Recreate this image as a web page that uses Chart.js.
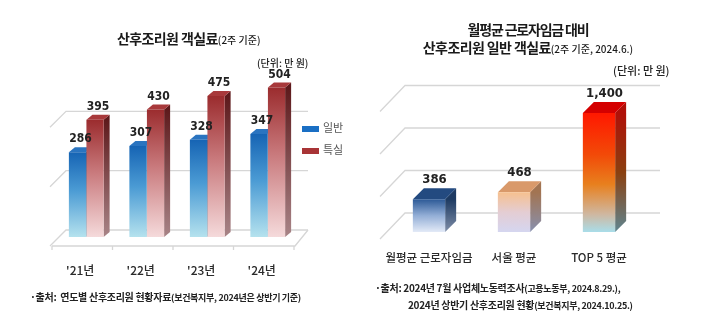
<!DOCTYPE html>
<html>
<head>
<meta charset="utf-8">
<script src="https://cdn.jsdelivr.net/npm/chart.js@4.4.1/dist/chart.umd.min.js"></script>
<style>
  body { margin: 0; background: #fff; width: 710px; height: 329px; overflow: hidden; position: relative;
         font-family: "Noto Sans CJK KR", "Noto Sans", sans-serif; color: #222; }
  .box { position: absolute; top: 0; width: 355px; height: 329px; }
  .t { position: absolute; white-space: nowrap; line-height: 1; }
  .title { font-size: 14px; font-weight: 700; color: #1a1a1a; letter-spacing: -0.6px; }
  .small { font-size: 10px; font-weight: 500; letter-spacing: 0; }
  .src { font-size: 10px; font-weight: 700; color: #222; letter-spacing: -0.3px; }
  .key { position: absolute; width: 17px; height: 6px; }
</style>
</head>
<body>
<div class="box" style="left:0"><canvas id="roomChart" width="355" height="329"></canvas></div>
<div class="box" style="left:355px"><canvas id="wageChart" width="355" height="329"></canvas></div>

<!-- left chart texts -->
<div class="t title" style="left:117px;top:31px">산후조리원 객실료<span class="small">(2주 기준)</span></div>
<div class="t small" style="left:257px;top:58px">(단위: 만 원)</div>
<div class="key" style="left:302px;top:126px;background:#1a6fc4"></div>
<div class="t" style="left:323px;top:122px;font-size:11px;color:#555">일반</div>
<div class="key" style="left:302px;top:148px;background:#a83436"></div>
<div class="t" style="left:323px;top:144px;font-size:11px;color:#555">특실</div>
<div class="t src" style="left:30px;top:292px">·출처:&nbsp; 연도별 산후조리원 현황자료<span style="font-size:9px">(보건복지부, 2024년은 상반기 기준)</span></div>

<!-- right chart texts -->
<div class="t title" style="left:355px;width:346px;text-align:center;top:22px;letter-spacing:-1.2px">월평균 근로자임금 대비</div>
<div class="t title" style="left:355px;width:346px;text-align:center;top:40px">산후조리원 일반 객실료<span class="small">(2주 기준, 2024.6.)</span></div>
<div class="t small" style="left:613px;top:65px;font-size:11px">(단위: 만 원)</div>
<div class="t src" style="left:375px;top:283px">·출처: 2024년 7월 사업체노동력조사<span style="font-size:9px">(고용노동부, 2024.8.29.),</span></div>
<div class="t src" style="left:408px;top:300px">2024년 상반기 산후조리원 현황<span style="font-size:9px">(보건복지부, 2024.10.25.)</span></div>

<script>
// left chart data
const years = ["'21년", "'22년", "'23년", "'24년"];
const generalRoom = [286, 307, 328, 347];
const specialRoom = [395, 430, 475, 504];
const roomGrid = [0, 200, 400];

// right chart data
const wageCats = ['월평균 근로자임금', '서울 평균', 'TOP 5 평균'];
const wageValues = [386, 468, 1400];
const wageGrid = [0, 500, 1000, 1500];

const numFont = "'Liberation Sans Narrow', 'DejaVu Sans Condensed', 'Liberation Sans', sans-serif";

// front face gradient for each bar, from its top down to the base
function frontFill(stopsFor) {
    return function (c) {
        const chart = c.chart;
        const stops = stopsFor(c.dataIndex);
        if (!chart.chartArea || c.type !== 'data') return stops[0][1];
        const y = chart.scales.y;
        const g = chart.ctx.createLinearGradient(0, y.getPixelForValue(c.raw), 0, y.getPixelForValue(0));
        stops.forEach(s => g.addColorStop(s[0], s[1]));
        return g;
    };
}

function vGrad(ctx, y0, y1, colors) {
    const g = ctx.createLinearGradient(0, y0, 0, y1);
    colors.forEach((col, i) => g.addColorStop(i / (colors.length - 1), col));
    return g;
}

// draws the fake 3D walls, bar sides/tops and the labels
const pseudo3d = {
    id: 'pseudo3d',
    beforeDatasetsDraw(chart, args, opts) {
        const ctx = chart.ctx;
        const area = chart.chartArea;
        const ys = chart.scales.y;
        const base = ys.getPixelForValue(0);
        ctx.save();
        ctx.strokeStyle = '#d6d6d6';
        ctx.lineWidth = 1.3;
        opts.grid.forEach(v => {
            const y = ys.getPixelForValue(v) - opts.wallY;
            ctx.beginPath();
            ctx.moveTo(area.left + opts.wallX - opts.diagX, y + opts.diagY);
            ctx.lineTo(area.left + opts.wallX, y);
            ctx.lineTo(area.right + opts.wallX, y);
            ctx.stroke();
        });
        if (opts.floor) {
            const fy = base + opts.floor;
            ctx.beginPath();
            ctx.moveTo(area.left - 4, fy);
            ctx.lineTo(area.right - 3, fy);
            ctx.lineTo(area.right + opts.wallX, base - opts.wallY);
            ctx.stroke();
            const xs = chart.scales.x;
            for (let i = 0; i <= chart.data.labels.length; i++) {
                const tx = xs.getPixelForValue(i - 0.5) - 4;
                ctx.beginPath();
                ctx.moveTo(tx, fy);
                ctx.lineTo(tx, fy + 4);
                ctx.stroke();
            }
        }
        // sides and tops, behind the front faces
        chart.data.datasets.forEach((ds, di) => {
            chart.getDatasetMeta(di).data.forEach((el, i) => {
                const p = el.getProps(['x', 'y', 'base', 'width'], true);
                const r = p.x + p.width / 2, l = p.x - p.width / 2;
                const dx = opts.dx, dy = opts.dy;
                const look = opts.faces(di, i);
                ctx.fillStyle = vGrad(ctx, p.y, p.base, look.side);
                ctx.beginPath();
                ctx.moveTo(r, p.y);
                ctx.lineTo(r + dx, p.y - dy);
                ctx.lineTo(r + dx, p.base - dy);
                ctx.lineTo(r, p.base);
                ctx.closePath();
                ctx.fill();
                ctx.fillStyle = look.top;
                ctx.beginPath();
                ctx.moveTo(l, p.y);
                ctx.lineTo(l + dx, p.y - dy);
                ctx.lineTo(r + dx, p.y - dy);
                ctx.lineTo(r, p.y);
                ctx.closePath();
                ctx.fill();
            });
        });
        ctx.restore();
    },
    afterDatasetsDraw(chart, args, opts) {
        const ctx = chart.ctx;
        ctx.save();
        ctx.fillStyle = '#222';
        ctx.textAlign = 'center';
        ctx.textBaseline = 'bottom';
        ctx.font = 'bold ' + opts.valueSize + 'px ' + numFont;
        chart.data.datasets.forEach((ds, di) => {
            chart.getDatasetMeta(di).data.forEach((el, i) => {
                const p = el.getProps(['x', 'y'], true);
                ctx.fillText(ds.data[i].toLocaleString('en-US'), p.x + opts.dx / 2, p.y - opts.dy - 2);
            });
        });
        const xs = chart.scales.x;
        ctx.fillStyle = '#2a2a2a';
        ctx.textBaseline = 'middle';
        ctx.font = '500 ' + opts.catSize + 'px "Noto Sans CJK KR", sans-serif';
        chart.data.labels.forEach((lab, i) => {
            ctx.fillText(lab, xs.getPixelForValue(i) + opts.catDx, opts.catY);
        });
        ctx.restore();
    }
};

const blueFront = [[0, '#1664b4'], [0.45, '#4b9bd4'], [1, '#b5e2ee']];
const redFront = [[0, '#9b2c2e'], [0.45, '#c97a7d'], [1, '#f5dadb']];

new Chart(document.getElementById('roomChart'), {
    type: 'bar',
    data: {
        labels: years,
        datasets: [
            { label: '일반', data: generalRoom, backgroundColor: frontFill(() => blueFront),
              categoryPercentage: 0.58, barPercentage: 0.98 },
            { label: '특실', data: specialRoom, backgroundColor: frontFill(() => redFront),
              categoryPercentage: 0.58, barPercentage: 0.98 }
        ]
    },
    options: {
        responsive: false,
        devicePixelRatio: 1,
        animation: false,
        layout: { padding: { left: 56, right: 57, top: 59, bottom: 92 } },
        scales: {
            x: { display: false },
            y: { display: false, min: 0, max: 600 }
        },
        plugins: {
            legend: { display: false },
            tooltip: { enabled: false },
            pseudo3d: {
                grid: roomGrid, wallX: 10, wallY: 7, diagX: 16, diagY: 16, floor: 9,
                dx: 6, dy: 5, valueSize: 12, catSize: 12, catDx: -6, catY: 270,
                faces: di => di === 0
                    ? { top: '#2a74c0', side: ['#0f4a88', '#6fa7bb'] }
                    : { top: '#a8393b', side: ['#5e1a1c', '#a88487'] }
            }
        }
    },
    plugins: [pseudo3d]
});

const wageFront = [
    [[0, '#2c5996'], [0.5, '#93aed6'], [1, '#e3eaf7']],
    [[0, '#f6c08f'], [0.5, '#e4cdd3'], [1, '#d5d6f0']],
    [[0, '#ff1800'], [0.35, '#f24a08'], [0.6, '#e8801e'], [0.85, '#cfb7a0'], [1, '#a9dde9']]
];
const wageFaces = [
    { top: '#234a80', side: ['#1d3a62', '#7f8ea8'] },
    { top: '#d9996a', side: ['#a27452', '#8890ae'] },
    { top: '#d40000', side: ['#b01008', '#8a4010', '#5f8590'] }
];

new Chart(document.getElementById('wageChart'), {
    type: 'bar',
    data: {
        labels: wageCats,
        datasets: [
            { label: '객실료', data: wageValues, backgroundColor: frontFill(i => wageFront[i]),
              categoryPercentage: 0.38, barPercentage: 1 }
        ]
    },
    options: {
        responsive: false,
        devicePixelRatio: 1,
        animation: false,
        layout: { padding: { left: 31.5, right: 68.5, top: 104.5, bottom: 97 } },
        scales: {
            x: { display: false },
            y: { display: false, min: 0, max: 1500 }
        },
        plugins: {
            legend: { display: false },
            tooltip: { enabled: false },
            pseudo3d: {
                grid: wageGrid, wallX: 18.5, wallY: 19, diagX: 25, diagY: 26, floor: 0,
                dx: 11, dy: 11, valueSize: 13, catSize: 11.5, catDx: 0, catY: 258,
                faces: (di, i) => wageFaces[i]
            }
        }
    },
    plugins: [pseudo3d]
});
</script>
</body>
</html>
